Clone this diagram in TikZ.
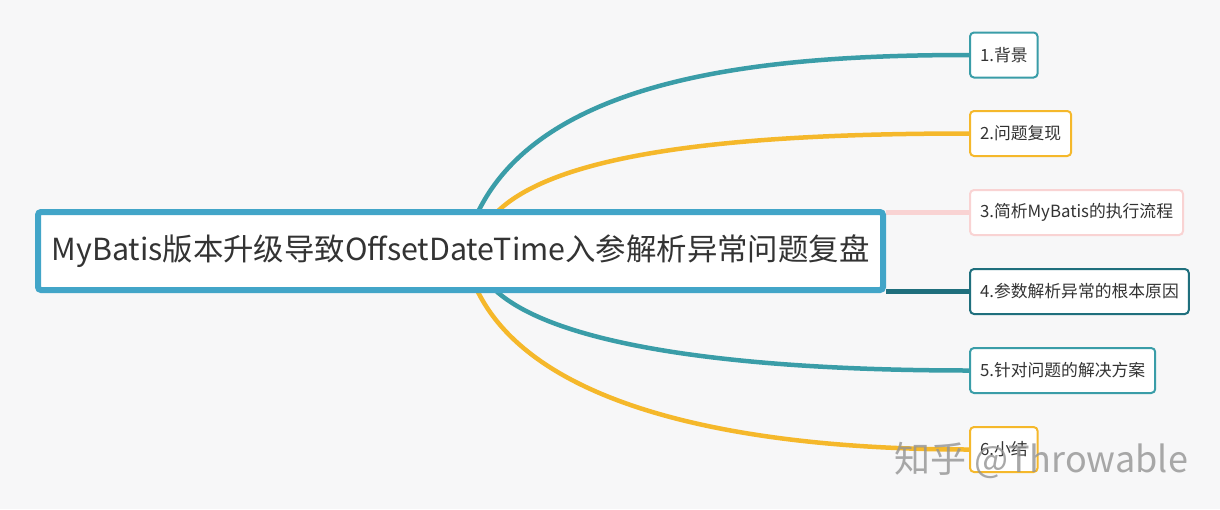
\documentclass[tikz,border=0pt]{standalone}
\usepackage{fontspec}
\setmainfont{Noto Sans CJK SC}
\pgfdeclarelayer{back}
\pgfdeclarelayer{edges}
\pgfsetlayers{back,edges,main}
\definecolor{bgc}{HTML}{F7F7F8}
\definecolor{rootc}{HTML}{42A5C8}
\definecolor{tealc}{HTML}{3A9DA8}
\definecolor{orangec}{HTML}{F5B82B}
\definecolor{pinkc}{HTML}{F9D3D3}
\definecolor{darktealc}{HTML}{1F6F7D}
\definecolor{txtc}{HTML}{333333}
\tikzset{
  rootbox/.style={draw=rootc, line width=6pt, fill=white, rounded corners=3pt,
    minimum width=845pt, minimum height=78pt, font=\fontsize{30.4}{34}\selectfont, text=txtc},
  topic/.style={draw=#1, line width=2pt, fill=white, rounded corners=4pt, anchor=west,
    minimum height=45pt, inner xsep=10pt, font=\fontsize{16.8}{19}\selectfont, text=txtc},
  link/.style={draw=#1, line width=4.5pt},
  watermark/.style={font=\fontsize{36}{40}\selectfont, text=gray!85, opacity=0.8}
}
\begin{document}
\begin{tikzpicture}[x=1pt,y=-1pt]
\begin{pgfonlayer}{back}
\fill[bgc] (0,0) rectangle (1220,509);
\end{pgfonlayer}
\useasboundingbox (0,0) rectangle (1220,509);
\node[rootbox] (root) at (460.5,251) {MyBatis版本升级导致OffsetDateTime入参解析异常问题复盘};
\node[topic=tealc] (n1) at (969,55) {1.背景};
\node[topic=orangec] (n2) at (969,133.5) {2.问题复现};
\node[topic=pinkc] (n3) at (969,212.5) {3.简析MyBatis的执行流程};
\node[topic=darktealc] (n4) at (969,291.5) {4.参数解析异常的根本原因};
\node[topic=tealc] (n5) at (969,370.5) {5.针对问题的解决方案};
\node[topic=orangec] (n6) at (969,449.5) {6.小结};
\coordinate (s1) at (478,212);
\coordinate (s2) at (497,212);
\coordinate (s5) at (495,290);
\coordinate (s6) at (477,290);
\begin{pgfonlayer}{edges}
\draw[link=tealc] (s1) .. controls (545,75) and (770,55) .. (n1.west);
\draw[link=orangec] (s2) .. controls (560,150) and (750,133.5) .. (n2.west);
\draw[link=pinkc] (root.east |- n3.west) -- (n3.west);
\draw[link=darktealc] (root.east |- n4.west) -- (n4.west);
\draw[link=tealc] (s5) .. controls (560,350) and (760,370.5) .. (n5.west);
\draw[link=orangec] (s6) .. controls (540,420) and (780,449.5) .. (n6.west);
\end{pgfonlayer}
\node[watermark] (wm) at (1041,460) {知乎 @Throwable};
\end{tikzpicture}
\end{document}
